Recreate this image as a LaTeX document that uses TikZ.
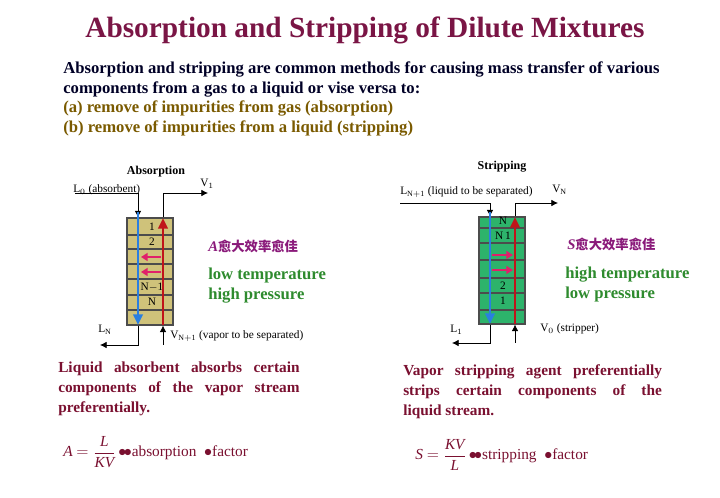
\documentclass[tikz,border=0pt]{standalone}
\usepackage{fontspec}
\setmainfont{Liberation Serif}
\newfontfamily\cjk{Noto Sans CJK SC}
\usetikzlibrary{arrows.meta}
\definecolor{ttl}{HTML}{7A1545}
\definecolor{maroon}{HTML}{7A1030}
\definecolor{olive}{HTML}{7A5A00}
\definecolor{purp}{HTML}{8A1A7A}
\definecolor{grn}{HTML}{2E8B2E}
\definecolor{khaki}{HTML}{CFC27A}
\definecolor{sgreen}{HTML}{2DB36B}
\definecolor{bl}{HTML}{2A7FE0}
\definecolor{rd}{HTML}{C0141A}
\definecolor{pk}{HTML}{E0206A}
\newcommand{\iv}[1]{\mbox{\itshape #1}}
\tikzset{
 lbl/.style={font=\fontsize{8.5}{10}\selectfont,inner sep=0pt},
 hd/.style={font=\bfseries\fontsize{9}{10}\selectfont,inner sep=0pt},
 flow/.style={-{Latex[length=5pt,width=5pt]},black,line width=0.6pt},
 bigb/.style={-{Triangle[length=8pt,width=7pt]},bl,line width=2.2pt},
 bigr/.style={-{Triangle[length=8pt,width=7pt]},rd,line width=2.2pt},
 pka/.style={-{Triangle[length=5pt,width=6pt]},pk,line width=2pt},
 para/.style={font=\bfseries\fontsize{11.5}{15}\selectfont,text=maroon,align=justify,inner sep=0pt,anchor=north west},
}
\begin{document}
\begin{tikzpicture}[x=0.75pt,y=-0.75pt]
\useasboundingbox (0,0) rectangle (720,498);
\node (title) [font=\bfseries\fontsize{22}{24}\selectfont,text=ttl] at (365,30) {Absorption and Stripping of Dilute Mixtures};
\node (intro) [anchor=north west,inner sep=0pt,align=left,font=\bfseries\fontsize{12.5}{14.6}\selectfont,text=black!85!blue] at (63,62)
 {Absorption and stripping are common methods for causing mass transfer of various\\
  components from a gas to a liquid or vise versa to:\\
  \textcolor{olive}{(a) remove of impurities from gas (absorption)}\\
  \textcolor{olive}{(b) remove of impurities from a liquid (stripping)}};
% ---------- Absorption ----------
\node (at) [hd] at (156,172) {Absorption};
\node (acol) [draw=black!70,line width=0.8pt,fill=khaki,minimum width=46*0.75pt,minimum height=107*0.75pt,inner sep=0pt] at (150,271.5) {};
\foreach \y in {235,249,264,279,295,310}{\draw[black!70,line width=0.8pt] (127,\y) -- (173,\y);}
\node[lbl] at (152,227) {1};
\node[lbl] at (152,242) {2};
\node[lbl] at (152,287) {N$-$1};
\node[lbl] at (152,302) {N};
\coordinate (a1) at (75,193);
\coordinate (a2) at (138,193);
\coordinate (a3) at (163,193);
\coordinate (a4) at (208,193);
\coordinate (a5) at (138,345);
\coordinate (a6) at (100,345);
\coordinate (a7) at (163,345);
\draw[flow] (a1) -- (a2) -- (acol.north -| a2);
\draw[flow] (acol.north -| a3) -- (a3) -- (a4);
\draw[flow] (acol.south -| a5) -- (a5) -- (a6);
\draw[flow] (a7) -- (acol.south -| a7);
\draw[bigb] (138,212) -- (138,325);
\draw[bigr] (163,325) -- (163,218);
\draw[pka] (161,257) -- (141,257);
\draw[pka] (161,272) -- (141,272);
\node[lbl,anchor=west] at (73,190) {L$_0$ (absorbent)};
\node[lbl,anchor=west] at (200,184) {V$_1$};
\node[lbl,anchor=west] at (98,330) {L$_\mathrm{N}$};
\node[lbl,anchor=west] at (170,336) {V$_{\mathrm{N+1}}$ (vapor to be separated)};
\node (aeff) [anchor=west,inner sep=0pt,text=purp,font=\bfseries\fontsize{11}{12}\selectfont] at (208,246) {\textit{A}{\cjk\fontsize{10}{12}\selectfont 愈大效率愈佳}};
\node (acond) [anchor=north west,inner sep=0pt,align=left,text=grn,font=\bfseries\fontsize{12.5}{15}\selectfont] at (208,268) {low temperature\\high pressure};
% ---------- Stripping ----------
\node (st) [hd] at (502,167) {Stripping};
\node (scol) [draw=black!70,line width=0.8pt,fill=sgreen,minimum width=46*0.75pt,minimum height=107*0.75pt,inner sep=0pt] at (502,270.5) {};
\foreach \y in {228,243,260,278,293,310}{\draw[black!70,line width=0.8pt] (479,\y) -- (525,\y);}
\node[lbl] at (503,221) {N};
\node[lbl] at (503,236) {N\,1};
\node[lbl] at (503,286) {2};
\node[lbl] at (503,301) {1};
\coordinate (b1) at (400,203);
\coordinate (b2) at (490,203);
\coordinate (b3) at (515,203);
\coordinate (b4) at (558,203);
\coordinate (b5) at (490,343);
\coordinate (b6) at (452,343);
\coordinate (b7) at (515,343);
\draw[flow] (b1) -- (b2) -- (scol.north -| b2);
\draw[flow] (scol.north -| b3) -- (b3) -- (b4);
\draw[flow] (scol.south -| b5) -- (b5) -- (b6);
\draw[flow] (b7) -- (scol.south -| b7);
\draw[bigb] (490,212) -- (490,324);
\draw[bigr] (515,324) -- (515,217);
\draw[pka] (492,255) -- (513,255);
\draw[pka] (492,270) -- (513,270);
\node[lbl,anchor=west] at (400,192) {L$_{\mathrm{N+1}}$ (liquid to be separated)};
\node[lbl,anchor=west] at (552,190) {V$_\mathrm{N}$};
\node[lbl,anchor=west] at (450,330) {L$_1$};
\node[lbl,anchor=west] at (540,329) {V$_0$ (stripper)};
\node (seff) [anchor=west,inner sep=0pt,text=purp,font=\bfseries\fontsize{11}{12}\selectfont] at (567,244) {\textit{S}{\cjk\fontsize{10}{12}\selectfont 愈大效率愈佳}};
\node (scond) [anchor=north west,inner sep=0pt,align=left,text=grn,font=\bfseries\fontsize{12.5}{15}\selectfont] at (565,267) {high temperature\\low pressure};
% ---------- paragraphs ----------
\node (pl) [para,text width=181pt] at (58,362) {Liquid absorbent absorbs certain\linebreak components of the vapor stream\linebreak preferentially.};
\node (pr) [para,text width=194pt] at (403,364) {Vapor stripping agent preferentially\linebreak strips certain components of the\linebreak liquid stream.};
\node (fa) [anchor=west,inner sep=0pt,text=maroon,font=\fontsize{11.5}{13}\selectfont] at (63,452) {\iv{A} $=\displaystyle\frac{\iv{L}}{\iv{KV}}$\,$\bullet\!\bullet$absorption \ $\bullet$factor};
\node (fs) [anchor=west,inner sep=0pt,text=maroon,font=\fontsize{11.5}{13}\selectfont] at (415,455) {\iv{S} $=\displaystyle\frac{\iv{KV}}{\iv{L}}$\,$\bullet\!\bullet$stripping \ $\bullet$factor};
\end{tikzpicture}
\end{document}
